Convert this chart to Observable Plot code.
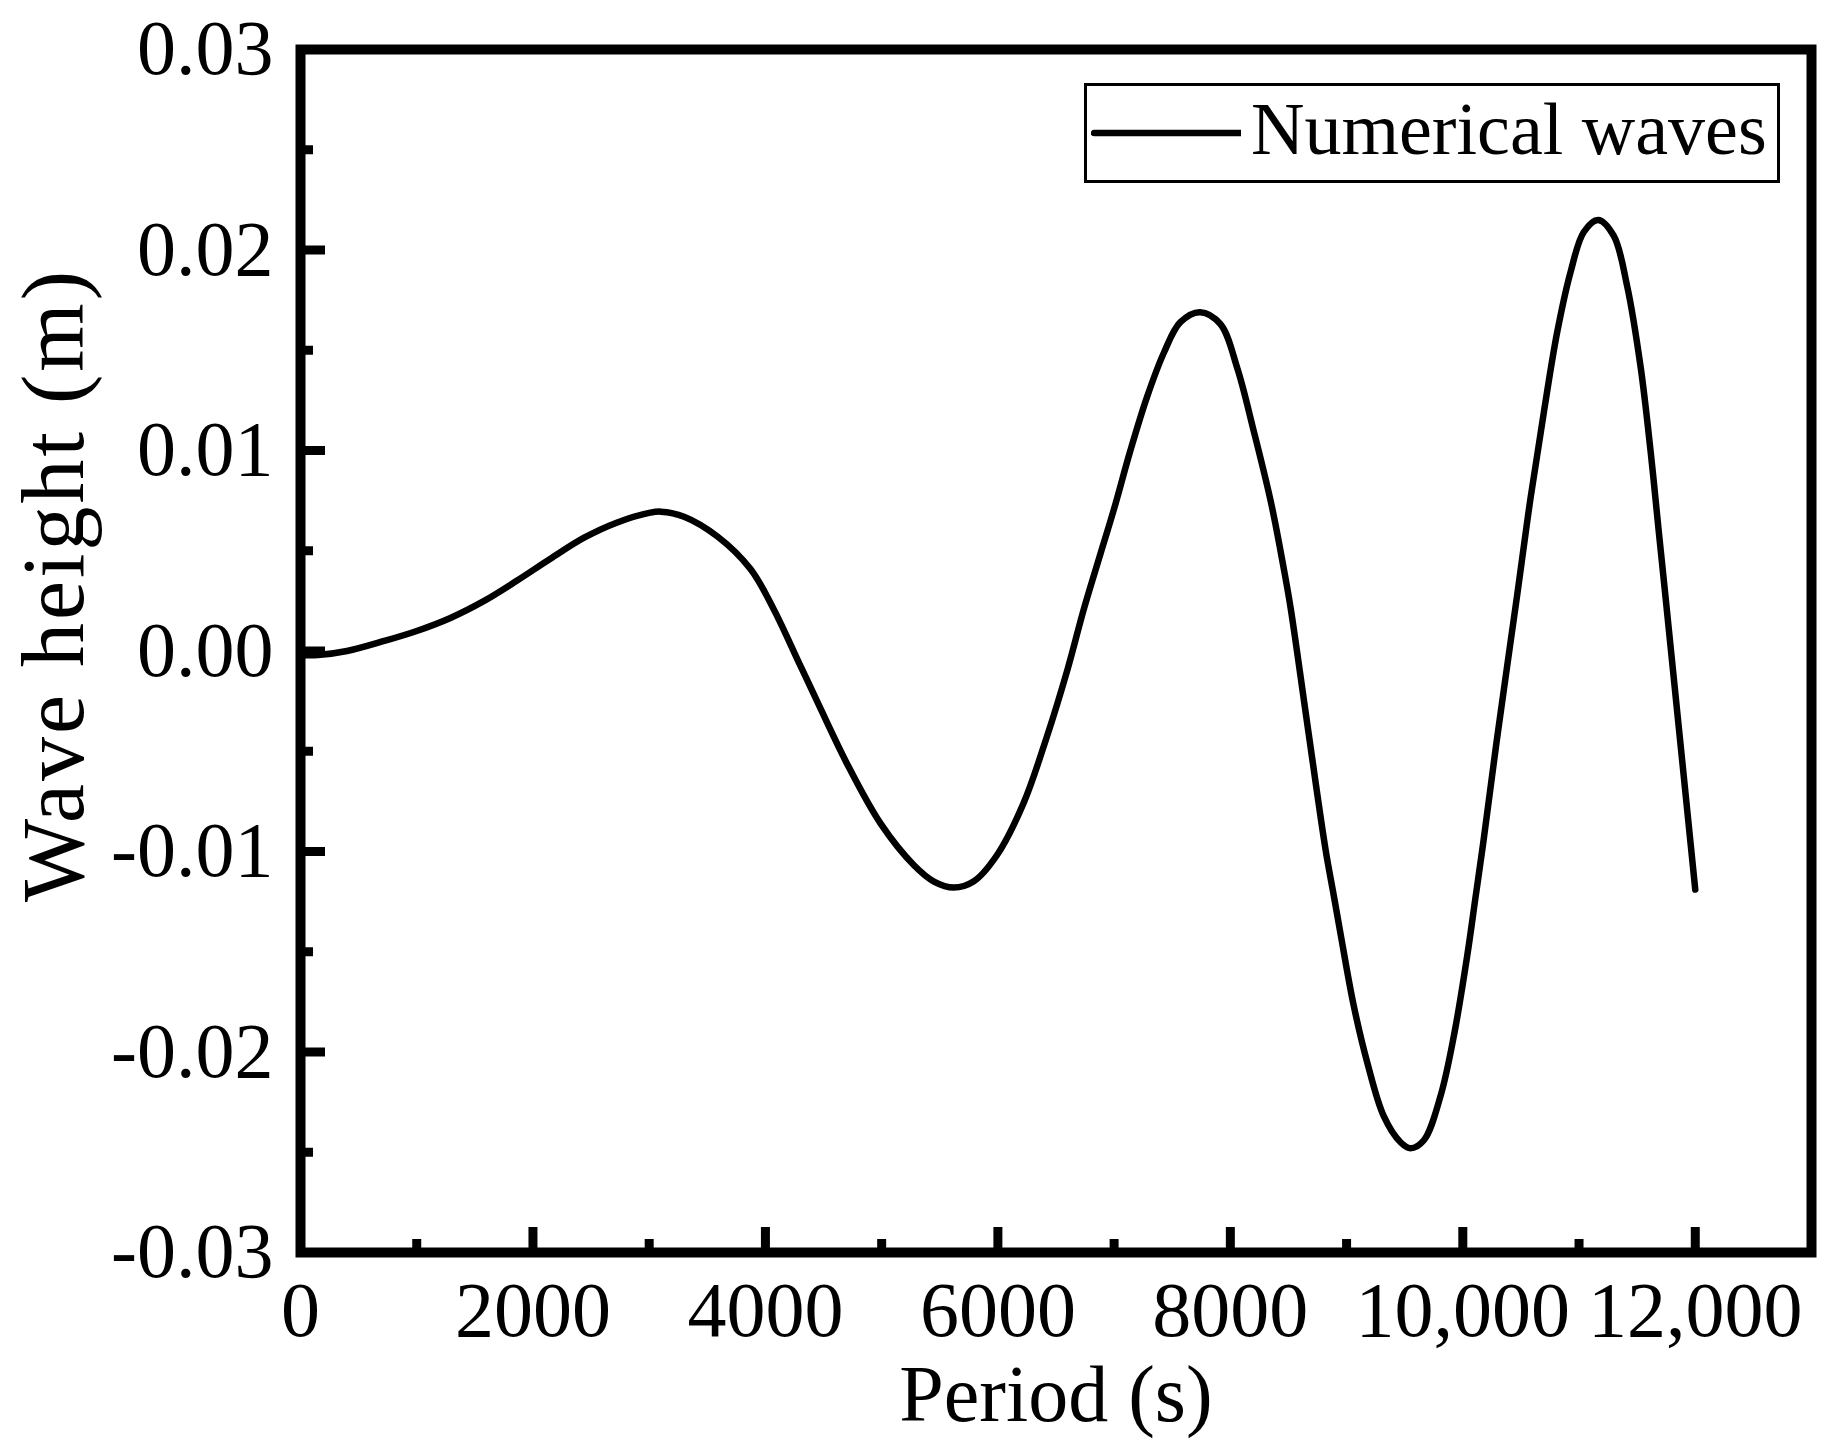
<!DOCTYPE html>
<html>
<head>
<meta charset="utf-8">
<script src="https://cdn.jsdelivr.net/npm/d3@7"></script>
<script src="https://cdn.jsdelivr.net/npm/@observablehq/plot@0.6"></script>
<style>
  html, body { margin: 0; padding: 0; background: #fff; }
  #wrap { position: relative; width: 1836px; height: 1450px; font-family: "Liberation Serif", "Times New Roman", serif; }
  #legend { position: absolute; left: 1084px; top: 83px; width: 696px; height: 100px; box-sizing: border-box;
            border: 3px solid #000; background: #fff; display: flex; align-items: center; white-space: nowrap; overflow: visible; }
  #legend svg { margin-left: 4px; flex: none; }
  #legend span { font-size: 74px; line-height: 1; margin-left: 10px; color: #000; position: relative; top: -4px; white-space: nowrap; }
</style>
</head>
<body>
<div id="wrap"><div id="chart"></div><div id="legend"></div></div>
<script>
// ---- data ----
const periods = [0,150,400,720,1000,1290,1580,1860,2150,2440,2720,3010,3100,3300,3590,3870,4070,4290,4420,4700,4990,5280,5450,5620,5790,5990,6220,6420,6600,6740,6880,7000,7140,7285,7430,7570,7740,7915,8060,8200,8350,8460,8520,8661,8819,8890,8948,9062,9177,9320,9464,9550,9665,9808,9923,10038,10109,10175,10296,10468,10582,10697,10812,10927,11041,11165,11299,11414,11529,11615,11687,11744,12000];
const waveHeights = [-0.0002,-0.0002,0.0000,0.0005,0.0010,0.00165,0.0025,0.0035,0.0046,0.00565,0.0064,0.0069,0.00695,0.0067,0.0057,0.0041,0.0021,-0.0006,-0.0022,-0.0056,-0.0086,-0.0107,-0.0115,-0.0118,-0.0115,-0.0102,-0.0076,-0.0043,-0.0009,0.0021,0.0048,0.0071,0.0100,0.0127,0.0149,0.0164,0.0169,0.0163,0.0141,0.0110,0.0074,0.0041,0.0021,-0.0036,-0.0099,-0.0122,-0.0141,-0.0177,-0.0205,-0.0232,-0.0245,-0.0248,-0.0244,-0.0222,-0.0192,-0.0152,-0.0123,-0.0096,-0.0043,0.0028,0.0076,0.0119,0.0159,0.0189,0.0209,0.0215,0.0207,0.0182,0.0142,0.0100,0.0059,0.0027,-0.0119];

const xMajorTicks = [0,2000,4000,6000,8000,10000,12000];
const xTickLabels = ["0","2000","4000","6000","8000","10,000","12,000"];
const xMinorTicks = [1000,3000,5000,7000,9000,11000];
const yMajorTicks = [0.03,0.02,0.01,0,-0.01,-0.02,-0.03];
const yTickLabels = ["0.03","0.02","0.01","0.00","-0.01","-0.02","-0.03"];
const yMinorTicks = [0.025,0.015,0.005,-0.005,-0.015,-0.025];
const xDomain = [0, 13000];
const yDomain = [-0.03, 0.03];
const xTitle = "Period (s)";
const yTitle = "Wave height (m)";
const seriesName = "Numerical waves";

const data = periods.map((p, i) => ({period: p, h: waveHeights[i]}));

// ---- layout ----
const W = 1836, H = 1450;
const mL = 300, mR = 25, mT = 49, mB = 198;
const plotW = W - mL - mR, plotH = H - mT - mB;
const majorLen = 25, minorLen = 13, tickW = 9;
const font = "Liberation Serif, Times New Roman, serif";

const chart = Plot.plot({
  width: W, height: H,
  marginLeft: mL, marginRight: mR, marginTop: mT, marginBottom: mB,
  style: {fontFamily: font, fontSize: "78px", color: "#000", background: "#fff"},
  x: {domain: xDomain},
  y: {domain: yDomain},
  marks: [
    Plot.line(data, {x: "period", y: "h", stroke: "#000", strokeWidth: 6.5, curve: "catmull-rom"}),
    Plot.tickX(xMajorTicks, {x: d => d, insetTop: plotH - majorLen, stroke: "#000", strokeWidth: tickW}),
    Plot.tickX(xMinorTicks, {x: d => d, insetTop: plotH - minorLen, stroke: "#000", strokeWidth: tickW}),
    Plot.tickY(yMajorTicks, {y: d => d, insetRight: plotW - majorLen, stroke: "#000", strokeWidth: tickW}),
    Plot.tickY(yMinorTicks, {y: d => d, insetRight: plotW - minorLen, stroke: "#000", strokeWidth: tickW}),
    Plot.axisX({ticks: xMajorTicks, tickSize: 0, tickPadding: 28, label: null, fontSize: 78,
                tickFormat: d => xTickLabels[xMajorTicks.indexOf(d)]}),
    Plot.axisY({ticks: yMajorTicks, tickSize: 0, tickPadding: 27, label: null, fontSize: 78,
                tickFormat: d => yTickLabels[yMajorTicks.indexOf(d)]}),
    Plot.text([xTitle], {frameAnchor: "bottom", lineAnchor: "middle", dy: 143, fontSize: 80, fill: "#000"}),
    Plot.text([yTitle], {frameAnchor: "left", textAnchor: "middle", lineAnchor: "middle", rotate: -90, dx: -246, dy: -66, fontSize: 88, fill: "#000"}),
    Plot.frame({stroke: "#000", strokeWidth: 10})
  ]
});
d3.select(chart).selectAll("text").filter(function () { return this.textContent === yTitle; })
  .style("letter-spacing", "3px");
document.getElementById("chart").appendChild(chart);

// legend
const lg = document.getElementById("legend");
const sw = d3.create("svg").attr("width", 150).attr("height", 20);
sw.append("line").attr("x1", 3).attr("x2", 150).attr("y1", 10).attr("y2", 10)
  .attr("stroke", "#000").attr("stroke-width", 6.5).attr("stroke-linecap", "round");
lg.appendChild(sw.node());
const sp = document.createElement("span");
sp.textContent = seriesName;
lg.appendChild(sp);
</script>
</body>
</html>
